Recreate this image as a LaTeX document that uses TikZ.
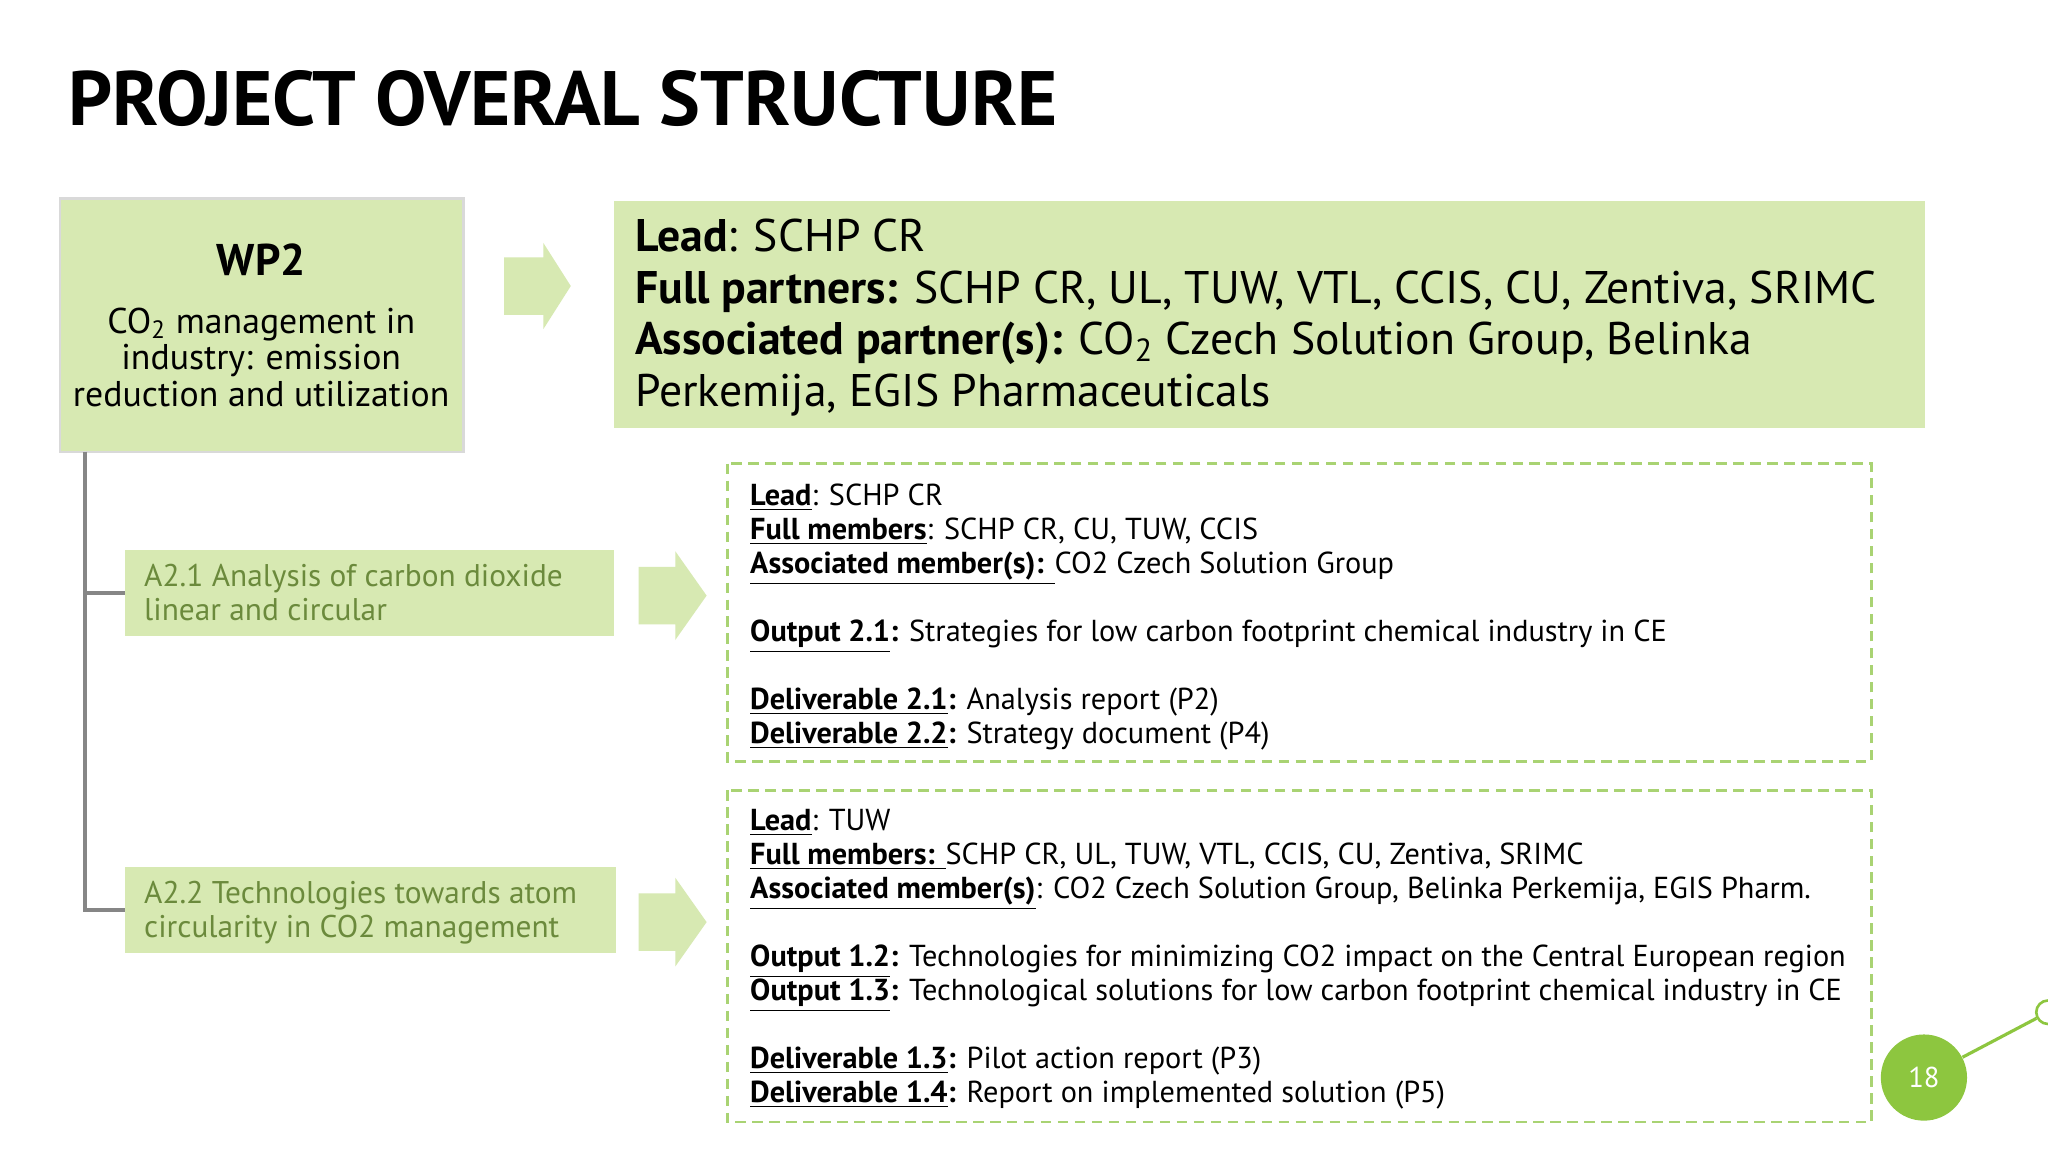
\documentclass[tikz,border=0pt]{standalone}
\usepackage{fontspec}
\setmainfont{PT Sans}
\usetikzlibrary{calc}
\definecolor{lg}{HTML}{D7E9B2}
\definecolor{dg}{HTML}{A9D373}
\definecolor{tg}{HTML}{6B8A3C}
\definecolor{cg}{HTML}{8DC63F}
\tikzset{
  box/.style={fill=lg,draw=none,inner sep=0,outer sep=0},
  dbox/.style={draw=dg,dashed,line width=1pt,dash pattern=on 4pt off 2.5pt},
  arr/.style={fill=lg,draw=none},
  tree/.style={draw=gray!95,line width=1.5pt},
  txt/.style={anchor=base west,align=left,inner sep=0},
}
\begin{document}
\begin{tikzpicture}[x=0.5pt,y=-0.5pt]
\useasboundingbox[fill=white] (0,0) rectangle (1568,882);
\node[txt,font=\fontsize{29.5}{30}\selectfont\bfseries] (title) at (52,96) {PROJECT OVERAL STRUCTURE};
% WP2
\node[box,draw=black!15,line width=1pt,minimum width=154.5pt,minimum height=97pt,anchor=north west] (wp2) at (46,152) {};
\node[anchor=base,inner sep=0,font=\fontsize{17}{20}\selectfont\bfseries] (wp2t) at (200,211) {WP2};
\node[anchor=base,inner sep=0,align=center,font=\fontsize{13.7}{14}\selectfont] (wp2d) at (200,311) {CO\textsubscript{2} management in\\industry: emission\\reduction and utilization};
% arrows
\fill[arr] (386,197) -- (416,197) -- (416,186) -- (437,219) -- (416,252) -- (416,241) -- (386,241) -- cycle;
\fill[arr] (489,434) -- (517,434) -- (517,422) -- (541,456) -- (517,490) -- (517,478) -- (489,478) -- cycle;
\fill[arr] (489,684) -- (517,684) -- (517,672) -- (541,706) -- (517,740) -- (517,728) -- (489,728) -- cycle;
% big box
\node[box,minimum width=502pt,minimum height=87pt,anchor=north west] (big) at (470,154) {};
\node[txt,font=\fontsize{17.5}{19.7}\selectfont] (bigt) at (486,311) {\textbf{Lead}: SCHP CR\\\textbf{Full partners:} SCHP CR, UL, TUW, VTL, CCIS, CU, Zentiva, SRIMC\\\textbf{Associated partner(s):} CO\textsubscript{2} Czech Solution Group, Belinka\\Perkemija, EGIS Pharmaceuticals};
% A boxes
\node[box,minimum width=187pt,minimum height=33pt,anchor=north west] (a21) at (96,421) {};
\node[txt,text=tg,font=\fontsize{12}{13}\selectfont] at (110,475) {A2.1 Analysis of carbon dioxide\\linear and circular};
\node[box,minimum width=188pt,minimum height=33pt,anchor=north west] (a22) at (96,664) {};
\node[txt,text=tg,font=\fontsize{12}{13}\selectfont] at (110,718) {A2.2 Technologies towards atom\\circularity in CO2 management};
\draw[tree] ($(wp2.south west)+(19,0)$) |- (a21.west);
\draw[tree] ($(wp2.south west)+(19,0)$) |- (a22.west);
% dashed boxes
\draw[dbox] (557,355) rectangle (1433,583);
\node[txt,font=\fontsize{11.6}{13}\selectfont] (d1) at (574,569) {\underline{\textbf{Lead}}: SCHP CR\\\underline{\textbf{Full members}}: SCHP CR, CU, TUW, CCIS\\\underline{\textbf{Associated member(s):} }CO2 Czech Solution Group\\[13pt]\underline{\textbf{Output 2.1}}\textbf{:} Strategies for low carbon footprint chemical industry in CE\\[13pt]\underline{\textbf{Deliverable 2.1}}\textbf{:} Analysis report (P2)\\\underline{\textbf{Deliverable 2.2}}\textbf{:} Strategy document (P4)};
\draw[dbox] (557,605) rectangle (1433,859);
\node[txt,font=\fontsize{11.6}{13}\selectfont] (d2) at (574,844) {\underline{\textbf{Lead}}: TUW\\\underline{\textbf{Full members:} }SCHP CR, UL, TUW, VTL, CCIS, CU, Zentiva, SRIMC\\\underline{\textbf{Associated member(s)}}: CO2 Czech Solution Group, Belinka Perkemija, EGIS Pharm.\\[13pt]\underline{\textbf{Output 1.2}}\textbf{:} Technologies for minimizing CO2 impact on the Central European region\\\underline{\textbf{Output 1.3}}\textbf{:} Technological solutions for low carbon footprint chemical industry in CE\\[13pt]\underline{\textbf{Deliverable 1.3}}\textbf{:} Pilot action report (P3)\\\underline{\textbf{Deliverable 1.4}}\textbf{:} Report on implemented solution (P5)};
% page number
\node[circle,fill=cg,minimum size=33pt,inner sep=0,text=white,font=\fontsize{11}{12}\selectfont] (pg) at (1473,825) {18};
\node[circle,draw=cg,fill=white,line width=1pt,minimum size=9pt,inner sep=0] (dot) at (1568,775) {};
\draw[cg,line width=1.2pt] (pg) -- (dot);
\end{tikzpicture}
\end{document}
